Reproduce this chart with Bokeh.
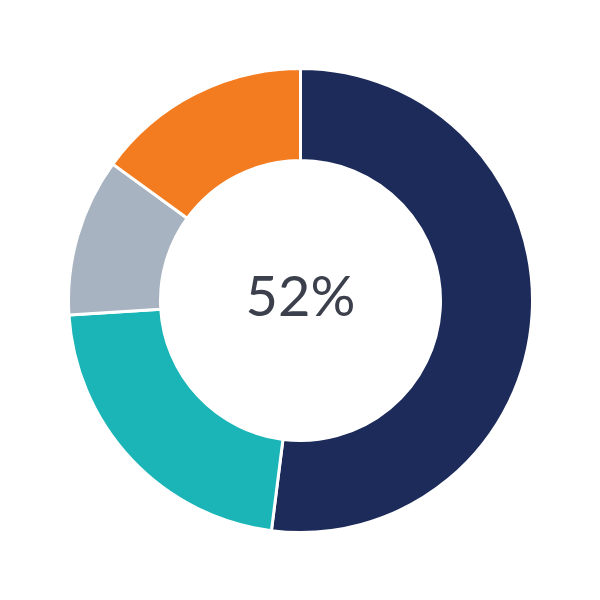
from math import pi
from bokeh.plotting import figure
from bokeh.models import ColumnDataSource
from bokeh.core.properties import value
from bokeh.embed import file_html
from bokeh.resources import INLINE

categories = ['Navy', 'Teal', 'Gray', 'Orange']
values = [52, 22, 11, 15]
colors = ['#1c2b5a', '#1bb5b8', '#a8b3c1', '#f47c20']
center_label = "52%"

total = float(sum(values))
starts = []
ends = []
acc = 0.0
for v in values:
    starts.append(pi / 2 - 2 * pi * acc / total)
    acc += v
    ends.append(pi / 2 - 2 * pi * acc / total)

source = ColumnDataSource(dict(
    category=categories,
    value=values,
    start_angle=starts,
    end_angle=ends,
    color=colors,
))

p = figure(width=584, height=584, x_range=(-300, 284), y_range=(-284, 300),
           output_backend="svg", toolbar_location=None, min_border=0)
p.axis.visible = False
p.grid.visible = False
p.outline_line_color = None
p.background_fill_color = "white"

p.annular_wedge(x=0, y=0, inner_radius=140, outer_radius=232,
                start_angle='start_angle', end_angle='end_angle', direction="clock",
                fill_color='color', line_color="white", line_width=3, source=source)

p.text(x=[0], y=[6], text=[center_label], text_align="center", text_baseline="middle",
       text_font=value("Lato"), text_font_size="56px", text_color="#3b404c")

open("out.html", "w").write(file_html(p, INLINE))
